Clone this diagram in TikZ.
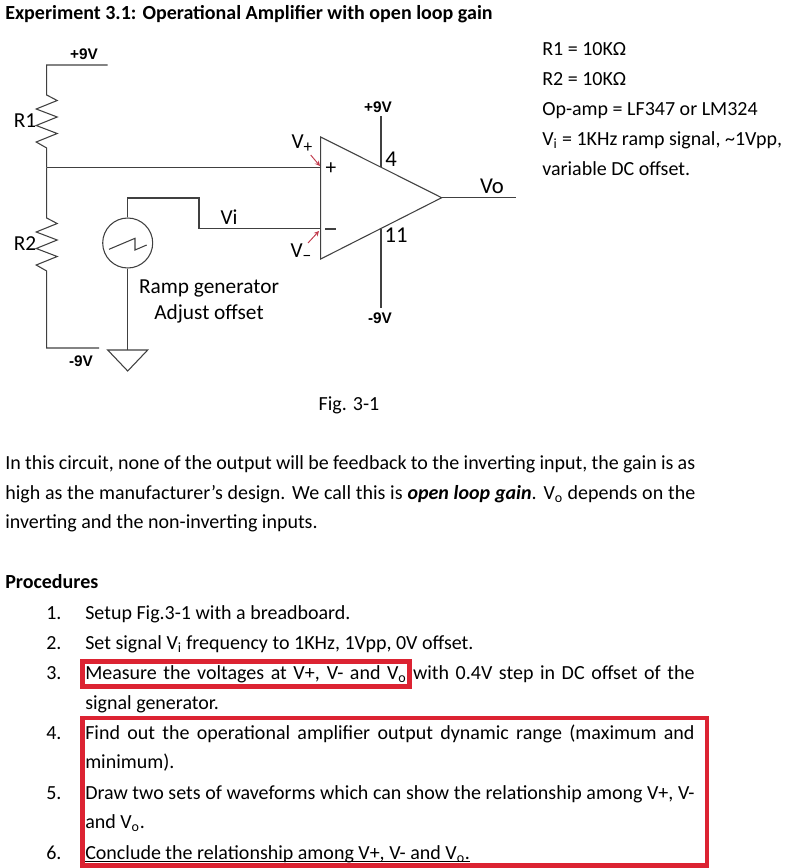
\documentclass[tikz,border=0pt]{standalone}
\usepackage{fontspec}
\setmainfont{Carlito}
\newfontfamily\labelfont{Liberation Sans}
\usetikzlibrary{arrows,shapes,positioning}
\definecolor{wirecol}{HTML}{404040}
\definecolor{boxred}{HTML}{DC2332}
\definecolor{arrowred}{HTML}{C0394B}
\newcommand{\spreadline}[2]{\makebox[#1][s]{#2}}
\newcommand{\lowsign}[1]{\raisebox{-3pt}{\fontsize{13}{14}\selectfont #1}}

\begin{document}
\begin{tikzpicture}[
    x=0.75pt,y=-0.75pt,
    wire/.style={draw=wirecol,line width=0.8pt},
    txt/.style={anchor=base west,inner sep=0pt,yshift=-0.5pt,font=\fontsize{15}{17}\selectfont},
    lbl/.style={anchor=center,inner sep=0pt,font=\fontsize{16}{18}\selectfont},
    supply/.style={anchor=center,inner sep=0pt,font=\labelfont\bfseries\fontsize{11.5}{13}\selectfont},
    probe/.style={->,>=stealth,draw=arrowred,line width=0.7pt},
    redbox/.style={draw=boxred,line width=3.6pt}
]
    \useasboundingbox (0,0) rectangle (790,868);

    % Title
    \node[txt,font=\bfseries\fontsize{15}{17}\selectfont] (title) at (5,19) {Experiment 3.1: Operational Amplifier with open loop gain};

    % Op-amp
    \coordinate (optop) at (320.7,137);
    \coordinate (opbot) at (320.7,259);
    \coordinate (opout) at (441.7,197.7);
    \draw[wire] (optop) -- (opout) -- (opbot) -- cycle;
    \node[lbl] (plus) at (331,169) {+};
    \coordinate (minusa) at (325,229);
    \coordinate (minusb) at (336,229);
    \draw[wire] (minusa) -- (minusb);

    % Divider: R1 and R2
    \coordinate (vcc) at (107.7,65);
    \coordinate (r1top) at (46.7,65);
    \coordinate (join) at (46.7,167.3);
    \coordinate (vee) at (99,348);
    \coordinate (r2bot) at (46.7,348);
    \coordinate (inplus) at (320.7,167.3);
    \draw[wire] (vcc) -- (r1top) -- ++(0,30) -- ++(10.5,5.5) -- ++(-21,8.5) -- ++(21,8) -- ++(-21,8.5) -- ++(21,8) -- ++(-21,8.5) -- ++(10.5,6) -- (join);
    \draw[wire] (join) -- ++(0,50.7) -- ++(10.5,5.5) -- ++(-21,8.5) -- ++(21,8) -- ++(-21,8.5) -- ++(21,8) -- ++(-21,8.5) -- ++(10.5,6) -- (r2bot) -- (vee);
    \draw[wire] (join) -- (inplus);

    % Ramp source and ground
    \node[circle,wire,minimum size=37.5pt,inner sep=0pt] (ramp) at (127.7,243) {};
    \coordinate (inminus) at (320.7,228.7);
    \draw[wire] (ramp.north) |- (199,198) |- (inminus);
    \draw[wire] (109,249.3) -- (135,238.3) -- (135,250) -- (146.7,245);
    \coordinate (gndtop) at (127.7,350);
    \draw[wire] (ramp.south) -- (gndtop);
    \draw[wire] (107.7,350) -- (147.7,350) -- (127.7,371) -- cycle;

    % Supply pins and output
    \coordinate (pinfour) at (381,166.5);
    \coordinate (pinfourend) at (381,116);
    \coordinate (pineleven) at (381,229);
    \coordinate (pinelevenend) at (381,308);
    \coordinate (voend) at (515.7,197.7);
    \draw[wire] (pinfour) -- (pinfourend);
    \draw[wire] (pineleven) -- (pinelevenend);
    \draw[wire] (opout) -- (voend);

    % Probes at the inputs
    \coordinate (vpa) at (310.7,155);
    \coordinate (vpb) at (320,166);
    \coordinate (vma) at (308,243);
    \coordinate (vmb) at (319,231);
    \draw[probe] (vpa) -- (vpb);
    \draw[probe] (vma) -- (vmb);

    % Circuit labels
    \node[supply] (vcclbl) at (84,54) {+9V};
    \node[supply] (veelbl) at (81,361) {-9V};
    \node[supply] (toplbl) at (378,107) {+9V};
    \node[supply] (botlbl) at (380,318) {-9V};
    \node[lbl] (r1lbl) at (25,121) {R1};
    \node[lbl] (r2lbl) at (25,244) {R2};
    \node[lbl] (vilbl) at (229,217) {Vi};
    \node[lbl] (rampa) at (209,288) {Ramp generator};
    \node[lbl] (rampb) at (209,314) {Adjust offset};
    \node[lbl] (vplbl) at (302,144) {V\lowsign{+}};
    \node[lbl] (vmlbl) at (301,253) {V\lowsign{\textminus}};
    \node[lbl,font=\fontsize{17}{19}\selectfont] (four) at (391,159) {4};
    \node[lbl,font=\fontsize{17}{19}\selectfont] (eleven) at (396,235) {11};
    \node[lbl,font=\fontsize{17}{19}\selectfont] (volbl) at (492,186) {Vo};
    \node[lbl,font=\fontsize{15}{17}\selectfont] (fig) at (349,405) {Fig. 3-1};

    % Values
    \node[txt] (vala) at (542,55) {R1 = 10KΩ};
    \node[txt] (valb) at (542,85) {R2 = 10KΩ};
    \node[txt] (valc) at (542,115) {Op-amp = LF347 or LM324};
    \node[txt] (vald) at (542,145) {V\textsubscript{i} = 1KHz ramp signal, \char"007E 1Vpp,};
    \node[txt] (vale) at (542,175) {variable DC offset.};

    % Paragraph
    \node[txt] (paraa) at (5,469) {\spreadline{517.5pt}{In this circuit, none of the output will be feedback to the inverting input, the gain is as}};
    \node[txt] (parab) at (5,499) {\spreadline{517.5pt}{high as the manufacturer’s design. We call this is \textbf{\textit{open loop gain}}. V\textsubscript{o} depends on the}};
    \node[txt] (parac) at (5,528) {inverting and the non-inverting inputs.};

    % Procedures
    \node[txt,font=\bfseries\fontsize{15}{17}\selectfont] (proc) at (5,588) {Procedures};
    \node[txt] (numa) at (46,619) {1.};
    \node[txt] (numb) at (46,649) {2.};
    \node[txt] (numc) at (46,679) {3.};
    \node[txt] (numd) at (46,739) {4.};
    \node[txt] (nume) at (46,799) {5.};
    \node[txt] (numf) at (46,859) {6.};
    \node[txt] (stepa) at (85,619) {Setup Fig.3-1 with a breadboard.};
    \node[txt] (stepb) at (85,649) {Set signal V\textsubscript{i} frequency to 1KHz, 1Vpp, 0V offset.};
    \node[txt] (stepc) at (85,679) {\spreadline{457pt}{Measure the voltages at V+, V- and V\textsubscript{o} with 0.4V step in DC offset of the}};
    \node[txt] (stepcc) at (85,709) {signal generator.};
    \node[txt] (stepd) at (85,739) {\spreadline{457pt}{Find out the operational amplifier output dynamic range (maximum and}};
    \node[txt] (stepdd) at (85,768) {minimum).};
    \node[txt] (stepe) at (85,799) {\spreadline{457pt}{Draw two sets of waveforms which can show the relationship among V+, V-}};
    \node[txt] (stepee) at (85,828) {and V\textsubscript{o}.};
    \node[txt] (stepf) at (85,859) {Conclude the relationship among V+, V- and V\textsubscript{o}.};
    \draw[line width=0.9pt] ([yshift=-1.2pt]stepf.base west) -- ([yshift=-1.2pt]stepf.base east);

    % Red marks
    \node[redbox,inner sep=0pt,minimum width=245.3pt,minimum height=19pt] (marka) at (246,674) {};
    \node[redbox,inner sep=0pt,minimum width=468.4pt,minimum height=110.6pt] (markb) at (394.75,791.7) {};
\end{tikzpicture}
\end{document}
